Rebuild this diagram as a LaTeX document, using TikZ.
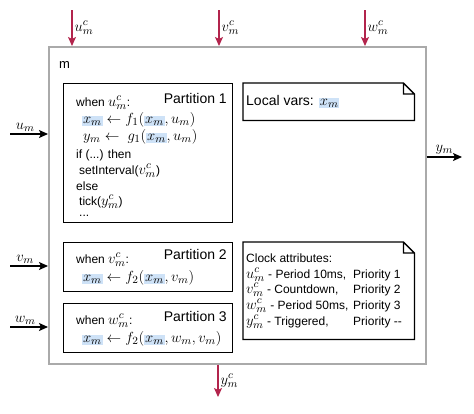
\documentclass[tikz,border=0pt]{standalone}
\usepackage{fontspec}
\setmainfont{Liberation Sans}
\usepackage{graphicx}
\usepackage{xcolor}
\usepackage{tikz}
\usetikzlibrary{positioning}
\usetikzlibrary{arrows.meta}
\DeclareMathSizes{12}{12}{9}{7}
\definecolor{clockred}{RGB}{178,36,76}
\definecolor{hlblue}{RGB}{206,226,247}
\definecolor{framegray}{RGB}{170,170,170}
\newcommand{\hlx}{{\setlength{\fboxsep}{0.7pt}\colorbox{hlblue}{$x_m$}}}
\newcommand{\mth}[1]{\scalebox{1.22}{\fontsize{12}{14}\selectfont$#1$}}
\tikzset{
    partbox/.style = {rectangle, anchor=north west, draw=black, fill=white, line width=1.3pt, inner sep=0pt},
    notebox/.style = {rectangle, anchor=north west, inner sep=0pt},
    codeline/.style = {anchor=base west, inner sep=0pt, font=\fontsize{12}{13}\selectfont},
    partlabel/.style = {anchor=base east, inner sep=0pt, font=\fontsize{14}{16}\selectfont},
    clockin/.style = {-{Stealth[length=9pt,width=8pt,inset=2pt]}, clockred, line width=1.2pt},
    sigin/.style = {-{Stealth[length=9pt,width=8pt,inset=2pt]}, black, line width=1.2pt},
}

\begin{document}
\begin{tikzpicture}[x=1pt, y=-1pt]
\useasboundingbox (0,0) rectangle (474,413);
\tikzset{
    clklabel/.style = {text=black, inner sep=2pt},
    notelines/.style = {draw=black, fill=white, line width=1.3pt, line join=miter},
}
% outer component
\node[rectangle, anchor=north west, draw=framegray, fill=white, line width=1.6pt,
      minimum width=377pt, minimum height=317pt, inner sep=0pt] at (48,46) (m) {};
\node[anchor=base west, inner sep=0pt, font=\fontsize{13}{15}\selectfont] at (59,68) (mname) {m};
%
\coordinate (uc) at (72,10);
\coordinate (vc) at (219,10);
\coordinate (wc) at (365,10);
\draw[clockin] (uc) -- (uc |- m.north) node[midway, right, clklabel] {\mth{u^c_m}};
\draw[clockin] (vc) -- (vc |- m.north) node[midway, right, clklabel] {\mth{v^c_m}};
\draw[clockin] (wc) -- (wc |- m.north) node[midway, right, clklabel] {\mth{w^c_m}};
%
\coordinate (um) at (10,134);
\coordinate (vm) at (10,266);
\coordinate (wm) at (10,327);
\draw[sigin] (um) -- (um -| m.west) node[pos=0.4, above, clklabel] {\mth{u_m}};
\draw[sigin] (vm) -- (vm -| m.west) node[pos=0.4, above, clklabel] {\mth{v_m}};
\draw[sigin] (wm) -- (wm -| m.west) node[pos=0.4, above, clklabel] {\mth{w_m}};
%
\coordinate (ym) at (462,157);
\draw[sigin] (ym -| m.east) -- (ym) node[midway, above, clklabel] {\mth{y_m}};
\coordinate (yc) at (218,397);
\draw[clockin] (yc |- m.south) -- (yc) node[midway, right, clklabel] {\mth{y^c_m}};
%
% partitions
\node[partbox, minimum width=169pt, minimum height=139pt] at (63,83) (p1) {};
\node[partbox, minimum width=169pt, minimum height=49pt] at (63,242) (p2) {};
\node[partbox, minimum width=169pt, minimum height=49pt] at (63,303) (p3) {};
\node[partlabel] at (227,103) (p1name) {Partition 1};
\node[partlabel] at (227,259) (p2name) {Partition 2};
\node[partlabel] at (227,321) (p3name) {Partition 3};
%
\node[codeline] at (76,106) (p1a) {when \mth{u^c_m}:};
\node[codeline] at (82,123) (p1b) {\mth{\hlx \leftarrow f_1(\hlx, u_m)}};
\node[codeline] at (83,140) (p1c) {\mth{y_m \leftarrow\; g_1(\hlx, u_m)}};
\node[codeline] at (76,158) (p1d) {if (...) then};
\node[codeline] at (79,174) (p1e) {setInterval(\mth{v^c_m})};
\node[codeline] at (76,190) (p1f) {else};
\node[codeline] at (79,205) (p1g) {tick(\mth{y^c_m})};
\node[codeline] at (79,216) (p1h) {...};
%
\node[codeline] at (76,263) (p2a) {when \mth{v^c_m}:};
\node[codeline] at (82,281) (p2b) {\mth{\hlx \leftarrow f_2(\hlx, v_m)}};
\node[codeline] at (76,324) (p3a) {when \mth{w^c_m}:};
\node[codeline] at (82,342) (p3b) {\mth{\hlx \leftarrow f_2(\hlx, w_m, v_m)}};
%
% notes
\node[notebox, minimum width=171pt, minimum height=37pt] at (243,83) (loc) {};
\node[notebox, minimum width=171pt, minimum height=97pt] at (243,242) (clk) {};
\foreach \n in {loc,clk}
    \draw[notelines] (\n.south west) -- (\n.north west) -- ([xshift=-11pt]\n.north east)
        -- ([yshift=-11pt]\n.north east) -- (\n.south east) -- cycle
        ([xshift=-11pt]\n.north east) |- ([yshift=-11pt]\n.north east);
\node[anchor=base west, inner sep=0pt, font=\fontsize{14}{16}\selectfont] at (246,105) (locvars) {Local vars: \mth{\hlx}};
%
\node[anchor=base west, inner sep=0pt, font=\fontsize{12}{14}\selectfont] at (246,262) (clkhead) {Clock attributes:};
\foreach \c/\txt/\prio/\yy in {u/{ - Period 10ms,}/1/278, v/{\ - Countdown,}/2/293,
                                 w/{\ - Period 50ms,}/3/309, y/{\ - Triggered,}/{-{}-}/325} {
    \node[anchor=base west, inner sep=0pt, font=\fontsize{12}{14}\selectfont] at (246,\yy) (clk\c) {\mth{\c^c_m}\txt};
    \node[anchor=base west, inner sep=0pt, font=\fontsize{12}{14}\selectfont] at (353,\yy) (prio\c) {Priority \prio};
}
\end{tikzpicture}
\end{document}
